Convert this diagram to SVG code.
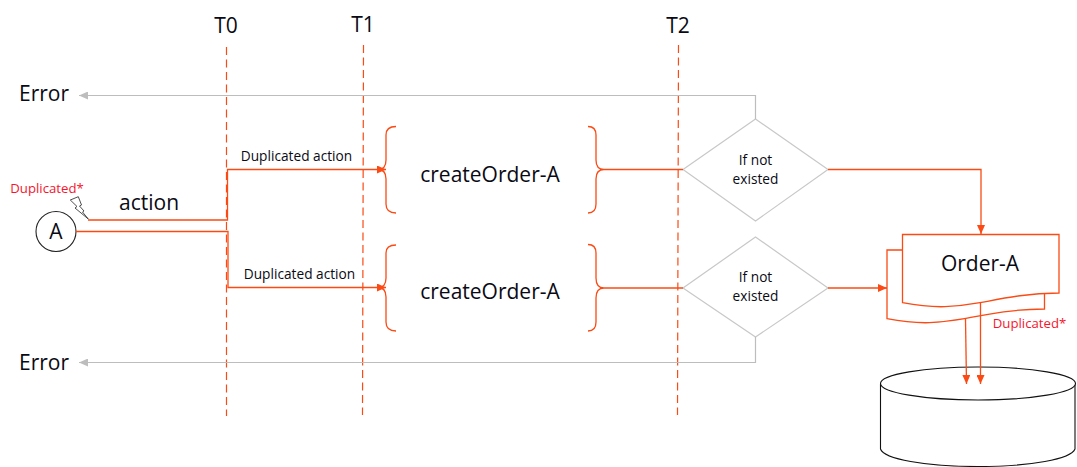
<svg xmlns="http://www.w3.org/2000/svg" width="1077" height="467" viewBox="0 0 1077 467">
<style>
text{font-family:"Open Sans","Noto Sans","Liberation Sans",sans-serif;fill:#0a0a14;text-anchor:middle}
.big{font-size:21px}
.t{font-size:21px}
.sm{font-size:13.700px}
.red{font-size:13.200px;fill:#f5152d}
.o{fill:none;stroke:#fb4a13;stroke-width:1.3}
.d{fill:none;stroke:#fb4a13;stroke-width:1.2;stroke-dasharray:8 4.500}
.g{fill:none;stroke:#bdbdbd;stroke-width:1.2}
.w{fill:#fff;stroke:#fb4a13;stroke-width:1.3}
.dm{fill:#fff;stroke:#c8c8c8;stroke-width:1.2}
.k{fill:#fff;stroke:#111;stroke-width:1.1}
</style>
<defs>
<marker id="oa" markerWidth="10" markerHeight="8" refX="9" refY="4" orient="auto" markerUnits="userSpaceOnUse"><path d="M0 0L9 4L0 8Z" fill="#fb4a13"/></marker>
<marker id="ga" markerWidth="10" markerHeight="8" refX="9" refY="4" orient="auto" markerUnits="userSpaceOnUse"><path d="M0 0L9 4L0 8Z" fill="#bdbdbd"/></marker>
</defs>
<g id="timelines">
<path class="d" d="M226.500 47V416"/>
<path class="d" d="M363.500 45L362.500 415"/>
<path class="d" d="M678.500 45L677.500 415"/>
<text class="t" x="226" y="33">T0</text>
<text class="t" x="363" y="32">T1</text>
<text class="t" x="678" y="33">T2</text>
</g>
<g id="actor-a">
<circle cx="56" cy="231.500" r="20" fill="#fff" stroke="#222" stroke-width="1.1"/>
<text class="big" x="56" y="239">A</text>
<path fill="#fff" stroke="#222" stroke-width="0.8" d="M70.300 200L78.300 196.700L81.500 205L79.500 206L84 211L82.500 212L88.300 219L75 208L77 206.500Z"/>
<text class="red" x="47" y="193">Duplicated*</text>
<text class="big" x="149" y="210">action</text>
</g>
<g id="label-top"><text class="sm" x="296.500" y="161">Duplicated action</text></g>
<g id="label-bottom"><text class="sm" x="299.500" y="279">Duplicated action</text></g>
<g id="create-order-top">
<path class="o" d="M396 126.500Q386 126.500 386 135V160Q386 169.500 378 169.500Q386 169.500 386 179V204Q386 213 396 213"/>
<path class="o" d="M588 126.500Q596 126.500 596 135V160Q596 169.500 604 169.500Q596 169.500 596 179V204Q596 213 588 213"/>
<text class="big" x="490" y="182">createOrder-A</text>
</g>
<g id="create-order-bottom">
<path class="o" d="M396 245Q386 245 386 253V278Q386 287.500 378 287.500Q386 287.500 386 297V322Q386 331 396 331"/>
<path class="o" d="M588 244.500Q596 244.500 596 253V278Q596 288 604 288Q596 288 596 298V322Q596 331 588 331"/>
<text class="big" x="490" y="299">createOrder-A</text>
</g>
<g id="decision-top">
<path class="dm" d="M755.500 119L828 169.500L755.500 221L683 169.500Z"/>
<text class="sm" x="755.500" y="165">If not</text>
<text class="sm" x="755.500" y="184">existed</text>
</g>
<g id="decision-bottom">
<path class="dm" d="M755.500 237L828 288L755.500 337L683 288Z"/>
<text class="sm" x="755.500" y="282">If not</text>
<text class="sm" x="755.500" y="301">existed</text>
</g>
<g id="error-top"><text class="big" x="44" y="101">Error</text></g>
<g id="error-bottom"><text class="big" x="44" y="370">Error</text></g>
<g id="order-doc">
<path class="w" d="M887 250H1044.500V309C1009 309.500 989 314 964.500 318.700C954 320.500 944 322 929.500 322.700C919 323 904 322 887 318.700Z"/>
<path class="w" d="M902.500 234.500H1059V293C1025 293.500 1005 298 980 302.700C970 304.500 960 306 945 306.700C935 307 920 306 902.500 302.700Z"/>
<text class="big" x="980" y="270.700">Order-A</text>
<text class="red" x="1029.500" y="328">Duplicated*</text>
</g>
<g id="database">
<path class="k" d="M880.500 384V449C884 459 925 466.500 978 466.500C1031 466.500 1071 459 1075 449V384"/>
<ellipse class="k" cx="978" cy="383.500" rx="97.500" ry="16.500"/>
</g>
<g id="connectors">
<path class="g" marker-end="url(#ga)" d="M755.500 119V95.500H79"/>
<path class="g" marker-end="url(#ga)" d="M755.500 337V362.500H79"/>
<path class="o" marker-end="url(#oa)" d="M88 220H227.500V169.500H386"/>
<path class="o" marker-end="url(#oa)" d="M76 231.500H228V287.500H386"/>
<path class="o" d="M604 169.500H683"/>
<path class="o" d="M604 288H683"/>
<path class="o" marker-end="url(#oa)" d="M828 169.500H981V234"/>
<path class="o" marker-end="url(#oa)" d="M828 288H887"/>
<path class="o" marker-end="url(#oa)" d="M965.500 318.700L966.500 384"/>
<path class="o" marker-end="url(#oa)" d="M980.500 303V384"/>
</g>
</svg>
